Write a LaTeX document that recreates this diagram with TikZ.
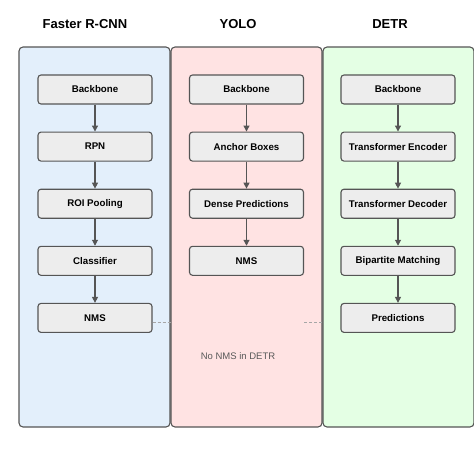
\documentclass[tikz,border=0pt]{standalone}
\usepackage{fontspec}
\setmainfont{Liberation Sans}
\usetikzlibrary{%
  positioning,
  arrows.meta,
}

\definecolor{rcnnfill}{HTML}{E3EFFB}
\definecolor{yolofill}{HTML}{FFE3E3}
\definecolor{detrfill}{HTML}{E4FFE4}
\definecolor{edge}{HTML}{555555}

\begin{document}
\begin{tikzpicture}[%
           x=1pt, y=-1pt,
           node distance=27pt,
           panel/.style={
             % The frame of one column:
             rectangle,
             rounded corners=4pt,
             minimum width=151pt,
             minimum height=380pt,
             line width=1.1pt,
             draw=edge,
           },
           stage/.style={
             % The shape:
             rectangle,
             rounded corners=3pt,
             % The size:
             minimum width=114pt,
             minimum height=29pt,
             % The border and filling:
             line width=1.1pt,
             draw=edge,
             fill=black!7,
             font=\bfseries\fontsize{9.7}{11}\selectfont,
           },
           title/.style={
             font=\bfseries\fontsize{13}{15}\selectfont,
           },
           flow/.style={
             -{Triangle[length=6pt,width=6pt]},
             line width=1.1pt,
             color=edge,
           },
           skip/.style={
             dash pattern=on 3pt off 2pt,
             thick,
             color=black!35,
           },
           note/.style={
             font=\fontsize{9.5}{11}\selectfont,
             text=black!65,
           },
         ]
         \useasboundingbox (0,0) rectangle (474,474);

         % column titles
         \node[title] (rcnnTitle) at (85,24) {Faster R-CNN};
         \node[title] (yoloTitle) at (238,24) {YOLO};
         \node[title] (detrTitle) at (390,24) {DETR};

         % column panels
         \node[panel, fill=rcnnfill] (rcnn) at (94.5,237) {};
         \node[panel, fill=yolofill] (yolo) at (246.5,237) {};
         \node[panel, fill=detrfill] (detr) at (398.5,237) {};

         % Faster R-CNN
         \node[stage] (rcnnBackbone) at (95,89.5) {Backbone};
         \node[stage] (rcnnRpn) [below=of rcnnBackbone] {RPN};
         \node[stage] (rcnnPool) [below=of rcnnRpn] {ROI Pooling};
         \node[stage] (rcnnCls) [below=of rcnnPool] {Classifier};
         \node[stage] (rcnnNms) [below=of rcnnCls] {NMS};

         \draw[flow] (rcnnBackbone) -- (rcnnRpn);
         \draw[flow] (rcnnRpn) -- (rcnnPool);
         \draw[flow] (rcnnPool) -- (rcnnCls);
         \draw[flow] (rcnnCls) -- (rcnnNms);

         % YOLO
         \node[stage] (yoloBackbone) at (246.5,89.5) {Backbone};
         \node[stage] (yoloAnchor) [below=of yoloBackbone] {Anchor Boxes};
         \node[stage] (yoloDense) [below=of yoloAnchor] {Dense Predictions};
         \node[stage] (yoloNms) [below=of yoloDense] {NMS};

         \draw[flow] (yoloBackbone) -- (yoloAnchor);
         \draw[flow] (yoloAnchor) -- (yoloDense);
         \draw[flow] (yoloDense) -- (yoloNms);

         % DETR
         \node[stage] (detrBackbone) at (398,89.5) {Backbone};
         \node[stage] (detrEnc) [below=of detrBackbone] {Transformer Encoder};
         \node[stage] (detrDec) [below=of detrEnc] {Transformer Decoder};
         \node[stage] (detrMatch) [below=of detrDec] {Bipartite Matching};
         \node[stage] (detrPred) [below=of detrMatch] {Predictions};

         \draw[flow] (detrBackbone) -- (detrEnc);
         \draw[flow] (detrEnc) -- (detrDec);
         \draw[flow] (detrDec) -- (detrMatch);
         \draw[flow] (detrMatch) -- (detrPred);

         % no NMS step in DETR
         \coordinate (gap) at ([yshift=-4pt]rcnnNms.east);
         \draw[skip] (gap) -- (gap -| rcnn.east);
         \draw[skip] (gap -| yoloNms.east) -- (gap -| detr.west);
         \node[note] (noNms) at (238,356) {No NMS in DETR};
       \end{tikzpicture}
\end{document}
